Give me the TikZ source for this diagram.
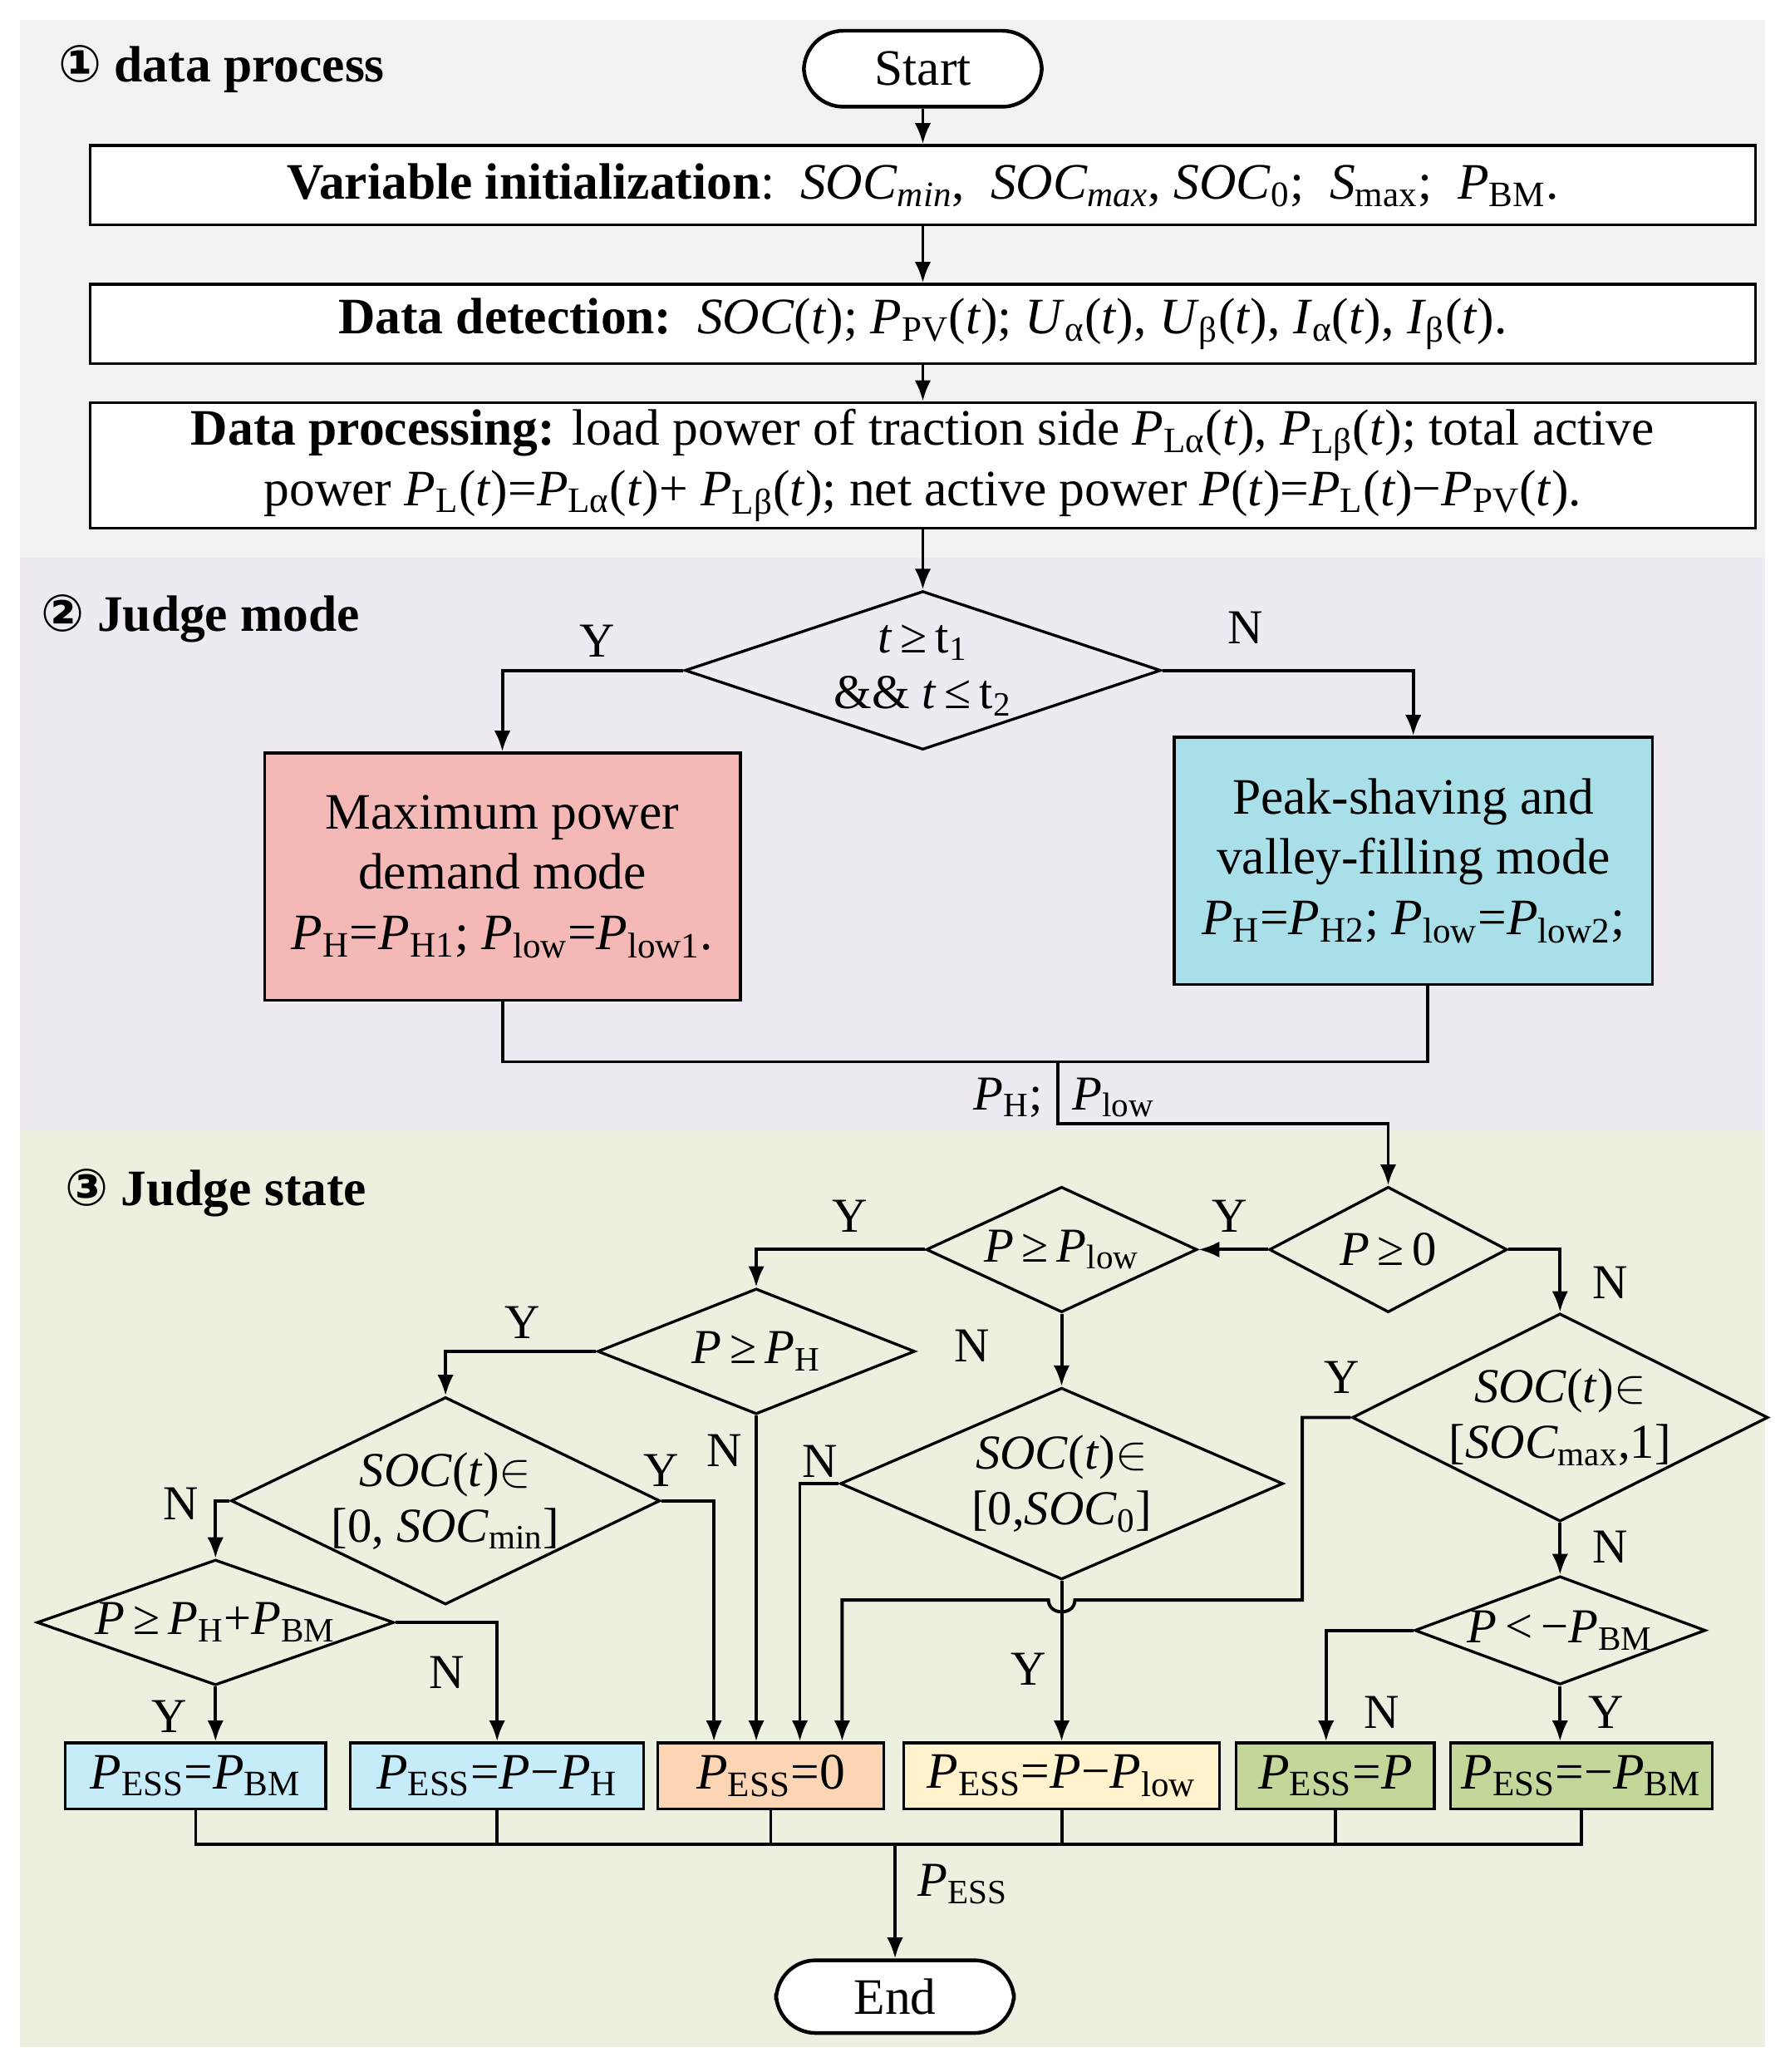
\documentclass[tikz,border=0pt]{standalone}
\usepackage{fontspec}
\setmainfont{Liberation Serif}
\newfontfamily\symf{DejaVu Sans}
\usetikzlibrary{shapes.geometric,arrows.meta}
\newcommand{\iv}[2]{\textit{#1}\textsubscript{#2}}
\newcommand{\ivi}[2]{\textit{#1}\textsubscript{\textit{#2}}}
\definecolor{bgA}{RGB}{242,242,242}
\definecolor{bgB}{RGB}{239,234,242}
\definecolor{bgC}{RGB}{235,241,222}
\definecolor{redbox}{RGB}{244,185,182}
\definecolor{cyanbox}{RGB}{168,223,232}
\definecolor{bluebox}{RGB}{198,236,250}
\definecolor{peach}{RGB}{252,213,181}
\definecolor{cream}{RGB}{255,242,204}
\definecolor{greenbox}{RGB}{196,215,155}
\tikzset{
  box/.style={draw, line width=1.2pt, inner sep=0pt, align=center, fill=white},
  term/.style={draw, rounded corners=0.6cm, line width=1.6pt, minimum width=3.6cm, minimum height=1.15cm, fill=white},
  dia/.style 2 args={/utils/exec={\pgfmathsetmacro\dasp{#1/#2}}, draw, diamond, line width=1.2pt, inner sep=0pt, aspect=\dasp, minimum width=#1*0.02cm, minimum height=#2*0.02cm, align=center, font=\fontsize{21}{24}\selectfont},
  arr/.style={-{Latex[length=9pt,width=7pt]}, line width=1.4pt},
  ln/.style={line width=1.4pt},
  yn/.style={font=\fontsize{21}{24}\selectfont},
  sec/.style={font=\fontsize{22}{26}\selectfont\bfseries, anchor=west}
}
\begin{document}
\begin{tikzpicture}[x=0.02cm,y=-0.02cm, font=\fontsize{22}{26}\selectfont]
\useasboundingbox (0,0) rectangle (1350,1567);
% backgrounds
\fill[bgA] (15,15) rectangle (1335,422);
\fill[bgB] (15,422) rectangle (1335,855);
\fill[bgC] (15,855) rectangle (1335,1548);
\node[sec] at (38,52) {{\symf ①} data process};
\node[sec] at (25,468) {{\symf ②} Judge mode};
\node[sec] at (43,902) {{\symf ③} Judge state};

% data process
\node[term] (start) at (698,52) {Start};
\node[box, minimum width=25.2cm, minimum height=1.2cm] (init) at (698,140)
  {\textbf{Variable initialization}:\ \ \ivi{SOC}{min},\ \ \ivi{SOC}{max}, \iv{SOC}{0};\ \ \iv{S}{max};\ \ \iv{P}{BM}.};
\node[box, minimum width=25.2cm, minimum height=1.2cm] (detect) at (698,245)
  {\textbf{Data detection:}\ \ \textit{SOC}(\textit{t}); \iv{P}{PV}(\textit{t}); \iv{U}{α}(\textit{t}), \iv{U}{β}(\textit{t}), \iv{I}{α}(\textit{t}), \iv{I}{β}(\textit{t}).};
\node[box, minimum width=25.2cm, minimum height=1.9cm] (proc) at (698,352)
  {\textbf{Data processing:} load power of traction side \iv{P}{Lα}(\textit{t}), \iv{P}{Lβ}(\textit{t}); total active\\
   power \iv{P}{L}(\textit{t})=\iv{P}{Lα}(\textit{t})+ \iv{P}{Lβ}(\textit{t}); net active power \textit{P}(\textit{t})=\iv{P}{L}(\textit{t})−\iv{P}{PV}(\textit{t}).};
\draw[arr] (start) -- (init);
\draw[arr] (init) -- (detect);
\draw[arr] (detect) -- (proc);

% judge mode
\node[dia={360}{120}] (dt) at (698,507) {\textit{t}\,≥\,t\textsubscript{1}\\ \&\& \textit{t}\,≤\,t\textsubscript{2}};
\node[box, fill=redbox, minimum width=7.2cm, minimum height=3.74cm] (mx) at (380,663)
  {Maximum power\\ demand mode\\ \iv{P}{H}=\iv{P}{H1}; \iv{P}{low}=\iv{P}{low1}.};
\node[box, fill=cyanbox, minimum width=7.24cm, minimum height=3.74cm] (pk) at (1069,651)
  {Peak-shaving and\\ valley-filling mode\\ \iv{P}{H}=\iv{P}{H2}; \iv{P}{low}=\iv{P}{low2};};
\draw[arr] (proc) -- (dt);
\draw[arr] (dt.west) -| (mx.north);
\draw[arr] (dt.east) -| (pk.north);
\node[yn] at (452,485) {Y};
\node[yn] at (942,475) {N};
\coordinate (mg) at (800,803);
\draw[ln] (mx.south) |- (mg) -| ([xshift=0.22cm]pk.south);
\node[yn, anchor=east] at (795,830) {\iv{P}{H};};
\node[yn, anchor=west] at (805,830) {\iv{P}{low}};

% judge state
\node[dia={180}{95}] (dP0) at (1050,945) {\textit{P}\,≥\,0};
\node[dia={205}{95}] (dPlow) at (803,945) {\textit{P}\,≥\,\iv{P}{low}};
\node[dia={240}{95}] (dPH) at (572,1022) {\textit{P}\,≥\,\iv{P}{H}};
\node[dia={300}{145}] (dSmin) at (337,1135) {\textit{SOC}(\textit{t})$\in$\\ {[}0, \iv{\textit{SOC}}{min}{]}};
\node[dia={270}{95}] (dPHBM) at (163,1227) {\textit{P}\,≥\,\iv{P}{H}+\iv{P}{BM}};
\node[dia={335}{145}] (dS0) at (803,1122) {\textit{SOC}(\textit{t})$\in$\\ {[}0,\iv{\textit{SOC}}{0}{]}};
\node[dia={290}{145}] (dSmax) at (1180,1072) {\textit{SOC}(\textit{t})$\in$\\ {[}\iv{\textit{SOC}}{max},1{]}};
\node[dia={220}{82}] (dPBM) at (1180,1233) {\textit{P}\,<\,−\iv{P}{BM}};

\node[box, fill=bluebox, minimum width=3.94cm, minimum height=1cm] (b1) at (148,1343) {\iv{P}{ESS}=\iv{P}{BM}};
\node[box, fill=bluebox, minimum width=4.44cm, minimum height=1cm] (b2) at (376,1343) {\iv{P}{ESS}=\textit{P}−\iv{P}{H}};
\node[box, fill=peach, minimum width=3.42cm, minimum height=1cm] (b0) at (583,1343) {\iv{P}{ESS}=0};
\node[box, fill=cream, minimum width=4.78cm, minimum height=1cm] (b4) at (803,1343) {\iv{P}{ESS}=\textit{P}−\iv{P}{low}};
\node[box, fill=greenbox, minimum width=3.0cm, minimum height=1cm] (b5) at (1010,1343) {\iv{P}{ESS}=\textit{P}};
\node[box, fill=greenbox, minimum width=3.96cm, minimum height=1cm] (b6) at (1196,1343) {\iv{P}{ESS}=−\iv{P}{BM}};
\node[term, minimum height=1.1cm] (end) at (677,1510) {End};

\draw[arr] (mg) -- (800,850) -| (dP0.north);
\draw[arr] (dP0.west) -- (dPlow.east);
\node[yn] at (930,920) {Y};
\draw[arr] (dPlow.west) -| (dPH.north);
\node[yn] at (643,920) {Y};
\draw[arr] (dPlow.south) -- (dS0.north);
\node[yn] at (735,1018) {N};
\draw[arr] (dPH.west) -| (dSmin.north);
\node[yn] at (395,1000) {Y};
\draw[arr] (dPH.south) -- (dPH.south |- b0.north);
\node[yn] at (548,1097) {N};
\draw[arr] (dSmin.east) -| ([xshift=-0.86cm]b0.north);
\node[yn] at (500,1112) {Y};
\draw[arr] (dSmin.west) -| (dPHBM.north);
\node[yn] at (137,1137) {N};
\draw[arr] (dPHBM.south) -- (dPHBM.south |- b1.north);
\node[yn] at (128,1298) {Y};
\draw[arr] (dPHBM.east) -| (b2.north);
\node[yn] at (338,1265) {N};
\draw[arr] (dS0.west) -| ([xshift=0.44cm]b0.north);
\node[yn] at (620,1105) {N};
\draw[arr] (dS0.south) -- (b4.north);
\node[yn] at (778,1262) {Y};
\draw[arr] (dP0.east) -| (dSmax.north);
\node[yn] at (1218,970) {N};
\draw[arr] (dSmax.west) -| (985,1210) -- (813,1210) .. controls (813,1222) and (793,1222) .. (793,1210) -| ([xshift=1.08cm]b0.north);
\node[yn] at (1015,1042) {Y};
\draw[arr] (dSmax.south) -- (dPBM.north);
\node[yn] at (1218,1170) {N};
\draw[arr] (dPBM.west) -| (b5.north -| 1003,0);
\node[yn] at (1045,1295) {N};
\draw[arr] (dPBM.south) -- (dPBM.south |- b6.north);
\node[yn] at (1215,1295) {Y};

% output bus
\coordinate (bus) at (677,1395);
\draw[ln] (b1.south) |- (bus) -| (b6.south);
\foreach \b in {b2,b0,b4,b5} \draw[ln] (\b.south) -- (\b.south |- bus);
\draw[arr] (bus) -- (end);
\node[yn, anchor=west] at (688,1425) {\iv{P}{ESS}};
\end{tikzpicture}
\end{document}
